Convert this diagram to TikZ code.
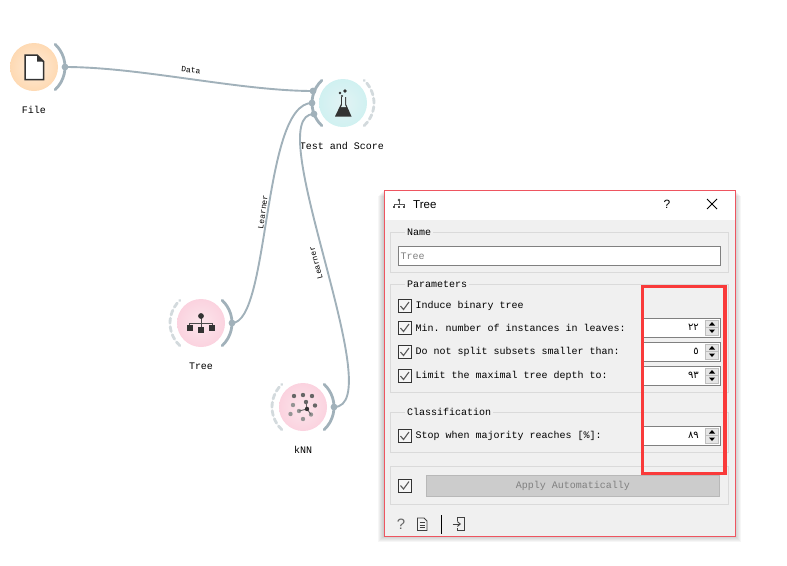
\documentclass[tikz,border=0pt]{standalone}
\usepackage{fontspec}
\setmainfont{Liberation Sans}
\setmonofont{Liberation Mono}
\newfontfamily\arabicfont[Script=Arabic]{DejaVu Sans}
\usetikzlibrary{arrows.meta}
\definecolor{fileinner}{HTML}{FEEBD8}
\definecolor{fileouter}{HTML}{FDC88E}
\definecolor{testinner}{HTML}{E2F3F4}
\definecolor{testouter}{HTML}{BEEEEE}
\definecolor{modelinner}{HTML}{FCE6EC}
\definecolor{modelouter}{HTML}{FABFD2}
\pgfdeclareradialshading{fileglow}{\pgfpointorigin}{color(0bp)=(fileinner); color(50bp)=(fileouter)}
\pgfdeclareradialshading{testglow}{\pgfpointorigin}{color(0bp)=(testinner); color(50bp)=(testouter)}
\pgfdeclareradialshading{modelglow}{\pgfpointorigin}{color(0bp)=(modelinner); color(50bp)=(modelouter)}
\definecolor{linkgray}{HTML}{A1B1BA}
\definecolor{slotgray}{HTML}{D3DADD}
\definecolor{framegray}{HTML}{DADADA}
\definecolor{fieldgray}{HTML}{808080}
\definecolor{panelgray}{HTML}{F0F0F0}
\definecolor{markred}{HTML}{F93A3A}
\definecolor{dialogred}{HTML}{EE5560}
\definecolor{icondark}{HTML}{333333}
\tikzset{
  widget/.style={circle, minimum size=48pt, inner sep=0pt},
  link/.style={draw=linkgray, line width=1.9pt},
  slotdash/.style={draw=slotgray, line width=2.8pt, dash pattern=on 5pt off 3.4pt, line cap=round},
  slotarc/.style={draw=linkgray, line width=2.8pt, line cap=round},
  caption/.style={font=\ttfamily\fontsize{10}{10}\selectfont, inner sep=0pt, text=black},
  edgetext/.style={font=\ttfamily\fontsize{8}{8}\selectfont, inner sep=0pt},
  grouptext/.style={caption, anchor=west, fill=panelgray, inner xsep=2pt},
  rowtext/.style={caption, anchor=west},
  groupbox/.style={draw=framegray, line width=.9pt},
  checkbox/.style={draw=icondark, fill=white!96!black, line width=.9pt},
}
% one spin field: right end is fixed
\newcommand{\spinfield}[3]{
  \draw [fieldgray, fill=white, line width=1pt] (644, #1) -- (720.5, #1) -- (720.5, #1+19) -- (644, #1+19);
  \fill [white!90!black, draw=white!75!black, line width=.7pt] (705.5, #1+2) rectangle (718.5, #1+9.5);
  \fill [white!90!black, draw=white!75!black, line width=.7pt] (705.5, #1+9.5) rectangle (718.5, #1+17);
  \fill [black] (709, #1+7.5) -- (715, #1+7.5) -- (712, #1+4) -- cycle;
  \fill [black] (709, #1+11.5) -- (715, #1+11.5) -- (712, #1+15) -- cycle;
  \node [font=\arabicfont\fontsize{10}{10}\selectfont, inner sep=0pt, anchor=east] (#2) at (699, #1+9.5) {#3};
}
\newcommand{\checkmarkbox}[1]{
  \draw [checkbox] (398, #1-6.5) rectangle (411, #1+6.5);
  \draw [black!65, line width=1.1pt] (400.5, #1) -- (403.5, #1+3.5) -- (409, #1-4);
}
\begin{document}
\begin{tikzpicture}[x=1pt, y=-1pt]
\useasboundingbox (0, 0) rectangle (787, 565);

% Widgets
\node [widget, shading=fileglow] (file) at (34, 67) {};
\node [widget, shading=testglow] (test) at (343, 103) {};
\node [widget, shading=modelglow] (tree) at (201, 323) {};
\node [widget, shading=modelglow] (knn) at (303, 407) {};
\node [caption] (fileLabel) at (34, 110) {File};
\node [caption] (testLabel) at (342, 146) {Test and Score};
\node [caption] (treeLabel) at (201, 366.5) {Tree};
\node [caption] (knnLabel) at (303, 450) {kNN};

% Channels
\draw [slotarc] (file)+(-47:31) arc [start angle=-47, end angle=47, radius=31];
\draw [slotarc] (tree)+(-47:31) arc [start angle=-47, end angle=47, radius=31];
\draw [slotarc] (knn)+(-47:31) arc [start angle=-47, end angle=47, radius=31];
\draw [slotarc] (test)+(133:31) arc [start angle=133, end angle=227, radius=31];
\draw [slotdash] (test)+(47:31) arc [start angle=47, end angle=-47, radius=31];
\draw [slotdash] (tree)+(133:31) arc [start angle=133, end angle=227, radius=31];
\draw [slotdash] (knn)+(133:31) arc [start angle=133, end angle=227, radius=31];

\coordinate (fileOut) at (65, 67);
\coordinate (treeOut) at (232, 323);
\coordinate (knnOut) at (334, 407);
\coordinate (testData) at (313, 91);
\coordinate (testTree) at (312, 103);
\coordinate (testKnn) at (314, 114);
\foreach \p in {fileOut, treeOut, knnOut, testData, testTree, testKnn}
{
\fill [linkgray] (\p) circle [radius=3.4];
}

% Links
\draw [link] (fileOut) .. controls (140, 67) and (240, 91) .. (testData);
\draw [link] (treeOut) .. controls (270, 323) and (262, 103) .. (testTree);
\draw [link] (knnOut) .. controls (392, 407) and (258, 114) .. (testKnn);
\node [edgetext, rotate=-6] (dataLabel) at (191, 70) {Data};
\node [edgetext, rotate=82] (learnerA) at (263, 212) {Learner};
\node [edgetext, rotate=105] (learnerB) at (316, 263) {Learner};

% Icon file
\draw [icondark, fill=white, line width=1.5pt] (25, 55) -- (37, 55) -- (43.5, 61.5) -- (43.5, 79.5) -- (25, 79.5) -- cycle;
\fill [icondark] (37, 55) -- (43.5, 61.5) -- (37, 61.5) -- cycle;
% Icon flask
\fill [black!80] (341, 97) -- (346, 97) -- (346, 104) -- (351.5, 116.5) -- (335, 116.5) -- (341, 104) -- cycle;
\fill [testinner] (342, 97) -- (345, 97) -- (345, 105) -- (346, 107) -- (341, 107) -- (342, 105) -- cycle;
\foreach \x/\y/\r in {340/93/1.4, 345/91/1.8, 342/96/1.2}
{
\fill [black!80] (\x, \y) circle [radius=\r];
}
% Icon tree
\draw [black!70, line width=1pt] (189.5, 329) -- (189.5, 323.5) -- (212, 323.5) -- (212, 329);
\draw [black!70, line width=1pt] (201, 316) -- (201, 330);
\fill [icondark] (201, 316) circle [radius=2.9];
\foreach \x/\y in {189.5/328, 201/330, 212/328}
{
\fill [icondark] (\x-3, \y-3) rectangle (\x+3, \y+3);
}
% Icon knn
\foreach \x/\y in {294/396, 303/395, 312/396, 315/405.5, 306/402}
{
\fill [black!60] (\x, \y) circle [radius=2.2];
}
\foreach \x/\y in {293/405, 290.5/414, 299/411, 311/414.5, 303/419}
{
\fill [black!42] (\x, \y) circle [radius=2.2];
}
\draw [black!60, line width=.9pt] (299, 411) -- (307, 409) -- (311, 414.5);
\draw [black!60, line width=.9pt] (306, 402) -- (307, 409);
\fill [icondark] (307, 409) circle [radius=2.2];

% Dialog
\foreach \d in {1, 2, 3, 4, 5, 6}
{
\fill [black, opacity=.035] (384-\d, 190+\d) rectangle (735+\d, 536+\d);
}
\fill [panelgray] (384, 190) rectangle (735, 536);
\fill [white] (384, 190) rectangle (735, 220);
\draw [dialogred, line width=1pt] (384, 190) rectangle (735, 536);
\node [font=\fontsize{11.5}{12}\selectfont, inner sep=0pt, anchor=west] (dialogTitle) at (413, 204.5) {Tree};
\node [font=\fontsize{12}{12}\selectfont, inner sep=0pt] (helpMark) at (667, 204.5) {?};
\coordinate (closeA) at (707, 199);
\coordinate (closeB) at (717, 209);
\coordinate (closeC) at (717, 199);
\coordinate (closeD) at (707, 209);
\draw [black, line width=.9pt] (closeA) -- (closeB) (closeC) -- (closeD);
% Icon title
\draw [black!65, line width=.7pt] (399, 200) -- (399, 204) (394, 206) -- (394, 204) -- (404, 204) -- (404, 206);
\fill [black!70] (399, 200) circle [radius=1.3];
\foreach \x in {394, 399, 404}
{
\fill [black!70] (\x-1.4, 205.5) rectangle (\x+1.4, 208);
}

% Groups
\draw [groupbox] (390, 232.5) rectangle (728.5, 272);
\draw [groupbox] (390, 284) rectangle (728.5, 392);
\draw [groupbox] (390, 412) rectangle (728.5, 452);
\draw [groupbox] (390, 466.5) rectangle (728.5, 504.5);
\node [grouptext] (nameTitle) at (405, 232) {Name\hspace{5pt}};
\node [grouptext] (parametersTitle) at (405, 284) {Parameters};
\node [grouptext] (classificationTitle) at (405, 412) {Classification};

\draw [fieldgray, fill=white, line width=1pt] (398.5, 246.5) rectangle (720.5, 265);
\node [rowtext, text=black!50] (nameField) at (400.5, 256.5) {Tree};

% Rows
\foreach \y/\t in {306/Induce binary tree, 328/Min. number of instances in leaves:, 352/Do not split subsets smaller than:, 376/Limit the maximal tree depth to:, 436/{Stop when majority reaches [\%]:}}
{
\checkmarkbox{\y}
\node [rowtext] (row\y) at (415.5, \y) {\t};
}
\spinfield{318}{spinLeaves}{٢٢}
\spinfield{342}{spinSubsets}{٥}
\spinfield{366}{spinDepth}{٩٣}
\spinfield{426}{spinMajority}{٨٩}

% Footer
\checkmarkbox{485.5}
\draw [white!72!black, fill=white!80!black, line width=.9pt] (426.5, 475.5) rectangle (719.5, 496.5);
\node [caption, text=black!50] (applyText) at (573, 486) {Apply Automatically};
\node [font=\fontsize{15}{15}\selectfont, text=black!60, inner sep=0pt] (helpIcon) at (401, 524.5) {?};
\draw [black!75, fill=white!95!black, line width=.9pt] (417.5, 518) -- (424, 518) -- (427, 521) -- (427, 530.5) -- (417.5, 530.5) -- cycle;
\draw [black!75, line width=.8pt] (419.5, 522.5) -- (425, 522.5) (419.5, 525) -- (425, 525) (419.5, 527.5) -- (425, 527.5);
\draw [black, line width=1pt] (441.5, 515) -- (441.5, 534);
\draw [black!75, line width=.9pt] (457.5, 520.5) -- (457.5, 517.5) -- (464.5, 517.5) -- (464.5, 530.5) -- (457.5, 530.5) -- (457.5, 527.5);
\draw [black!75, line width=.9pt, -{Straight Barb[length=3pt, width=5pt]}] (452.5, 524) -- (461, 524);

% Red mark
\draw [markred, line width=3.5pt] (642.5, 286.5) rectangle (725, 473.5);
\end{tikzpicture}
\end{document}
